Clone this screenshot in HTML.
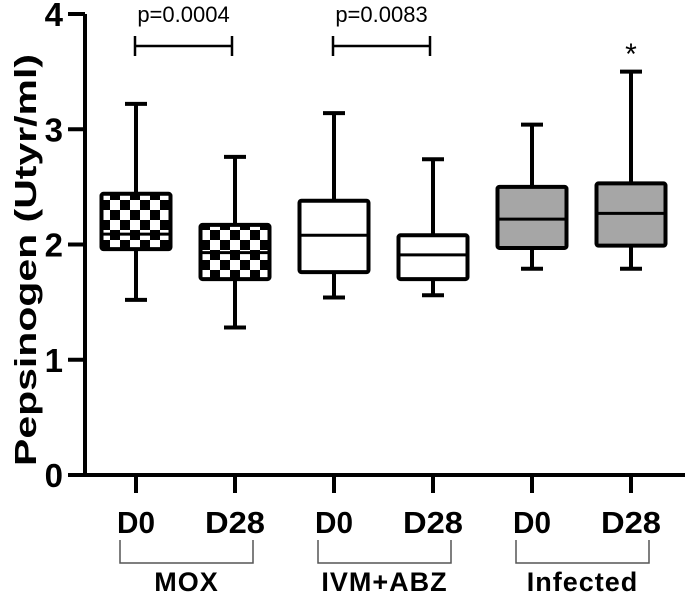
<!DOCTYPE html>
<html><head><meta charset="utf-8"><style>
html,body{margin:0;padding:0;background:#fff;width:685px;height:593px;overflow:hidden}
svg{font-family:"Liberation Sans",Arial,sans-serif}
</style></head><body>
<svg id="chart" width="685" height="593" viewBox="0 0 685 593">
<defs>
<pattern id="chk" x="0" y="0" width="20" height="20" patternUnits="userSpaceOnUse">
<rect width="20" height="20" fill="#fff"/><rect width="10" height="10" fill="#000"/><rect x="10" y="10" width="10" height="10" fill="#000"/>
</pattern>
</defs>
<g id="plot"></g>
</svg>
<script>
const categories = ["D0","D28","D0","D28","D0","D28"];
const groups = ["MOX","IVM+ABZ","Infected"];
const maxVals = [3.22,2.76,3.14,2.74,3.04,3.50];
const q3Vals = [2.44,2.17,2.38,2.08,2.50,2.53];
const medVals = [2.09,1.93,2.08,1.91,2.22,2.27];
const q1Vals = [1.96,1.70,1.76,1.70,1.97,1.99];
const minVals = [1.52,1.28,1.54,1.56,1.79,1.79];
const fills = ["url(#chk)","url(#chk)","#fff","#fff","#a6a6a6","#a6a6a6"];
const yTicks = [0,1,2,3,4];
const sigLabels = [{from:0,to:1,text:"p=0.0004"},{from:2,to:3,text:"p=0.0083"}];
const starIdx = [5];

const NS="http://www.w3.org/2000/svg";
const g=document.getElementById('plot');
const y0=475, pxPer=115.25, axisX=85;
function yS(v){return y0-v*pxPer;}
function xS(i){return 136+i*99;}
function el(t,a,parent){const e=document.createElementNS(NS,t);for(const k in a)e.setAttribute(k,a[k]);(parent||g).appendChild(e);return e;}

let e=el('line',{x1:axisX,y1:yS(4),x2:axisX,y2:y0+2,stroke:'#000','stroke-width':4});


e=el('line',{x1:axisX-2,y1:y0,x2:685,y2:y0,stroke:'#000','stroke-width':4});


yTicks.forEach(t=>{
  let l=el('line',{x1:axisX-17,y1:yS(t),x2:axisX,y2:yS(t),stroke:'#000','stroke-width':4});
  
  
  let tx=el('text',{x:axisX-22,y:yS(t)+12,'text-anchor':'end','font-size':33,'font-weight':'bold'});
  tx.textContent=t;
  
  
});
let yt=el('text',{x:0,y:0,transform:'translate(36,260) rotate(-90)','text-anchor':'middle','font-size':31,'font-weight':'bold',textLength:412,lengthAdjust:'spacingAndGlyphs'});
yt.textContent='Pepsinogen (Utyr/ml)';



const bw=69, cap=11;
categories.forEach((c,i)=>{
  const x=xS(i);
  const bg=el('g',{});
  
  
  el('line',{x1:x,y1:yS(maxVals[i]),x2:x,y2:yS(q3Vals[i]),stroke:'#000','stroke-width':4},bg);
  el('line',{x1:x,y1:yS(q1Vals[i]),x2:x,y2:yS(minVals[i]),stroke:'#000','stroke-width':4},bg);
  el('line',{x1:x-cap,y1:yS(maxVals[i]),x2:x+cap,y2:yS(maxVals[i]),stroke:'#000','stroke-width':4},bg);
  el('line',{x1:x-cap,y1:yS(minVals[i]),x2:x+cap,y2:yS(minVals[i]),stroke:'#000','stroke-width':4},bg);
  el('rect',{x:x-bw/2,y:yS(q3Vals[i]),width:bw,height:yS(q1Vals[i])-yS(q3Vals[i]),fill:fills[i],stroke:'#000','stroke-width':4,rx:2},bg);
  el('line',{x1:x-bw/2,y1:yS(medVals[i]),x2:x+bw/2,y2:yS(medVals[i]),stroke:'#000','stroke-width':3},bg);
  let tk=el('line',{x1:x,y1:y0,x2:x,y2:y0+18,stroke:'#000','stroke-width':4});
  
  
  let lb=el('text',{x:x,y:533,'text-anchor':'middle','font-size':31,'font-weight':'bold',textLength:(c.length===2?38:60),lengthAdjust:'spacingAndGlyphs'});
  lb.textContent=c;
  
  
});
groups.forEach((gname,k)=>{
  const xa=xS(2*k)-16, xb=xS(2*k+1)+18;
  let br=el('polyline',{points:`${xa},540 ${xa},563 ${xb},563 ${xb},540`,fill:'none',stroke:'#555','stroke-width':1.5});
  
  
  let t=el('text',{x:(xa+xb)/2,y:591,'text-anchor':'middle','font-size':27,'font-weight':'bold','letter-spacing':1});
  t.textContent=gname;
  
  
});
sigLabels.forEach(s=>{
  const xa=xS(s.from)-1, xb=xS(s.to)-3;
  let sg=el('g',{});
  
  
  el('line',{x1:xa,y1:46,x2:xb,y2:46,stroke:'#000','stroke-width':2.5},sg);
  el('line',{x1:xa,y1:36,x2:xa,y2:56,stroke:'#000','stroke-width':2.5},sg);
  el('line',{x1:xb,y1:36,x2:xb,y2:56,stroke:'#000','stroke-width':2.5},sg);
  let t=el('text',{x:(xa+xb)/2,y:22,'text-anchor':'middle','font-size':22},sg);
  t.textContent=s.text;
});
starIdx.forEach(i=>{
  let t=el('text',{x:xS(i),y:64,'text-anchor':'middle','font-size':30});
  t.textContent='*';
  
  
});
</script>
</body></html>
